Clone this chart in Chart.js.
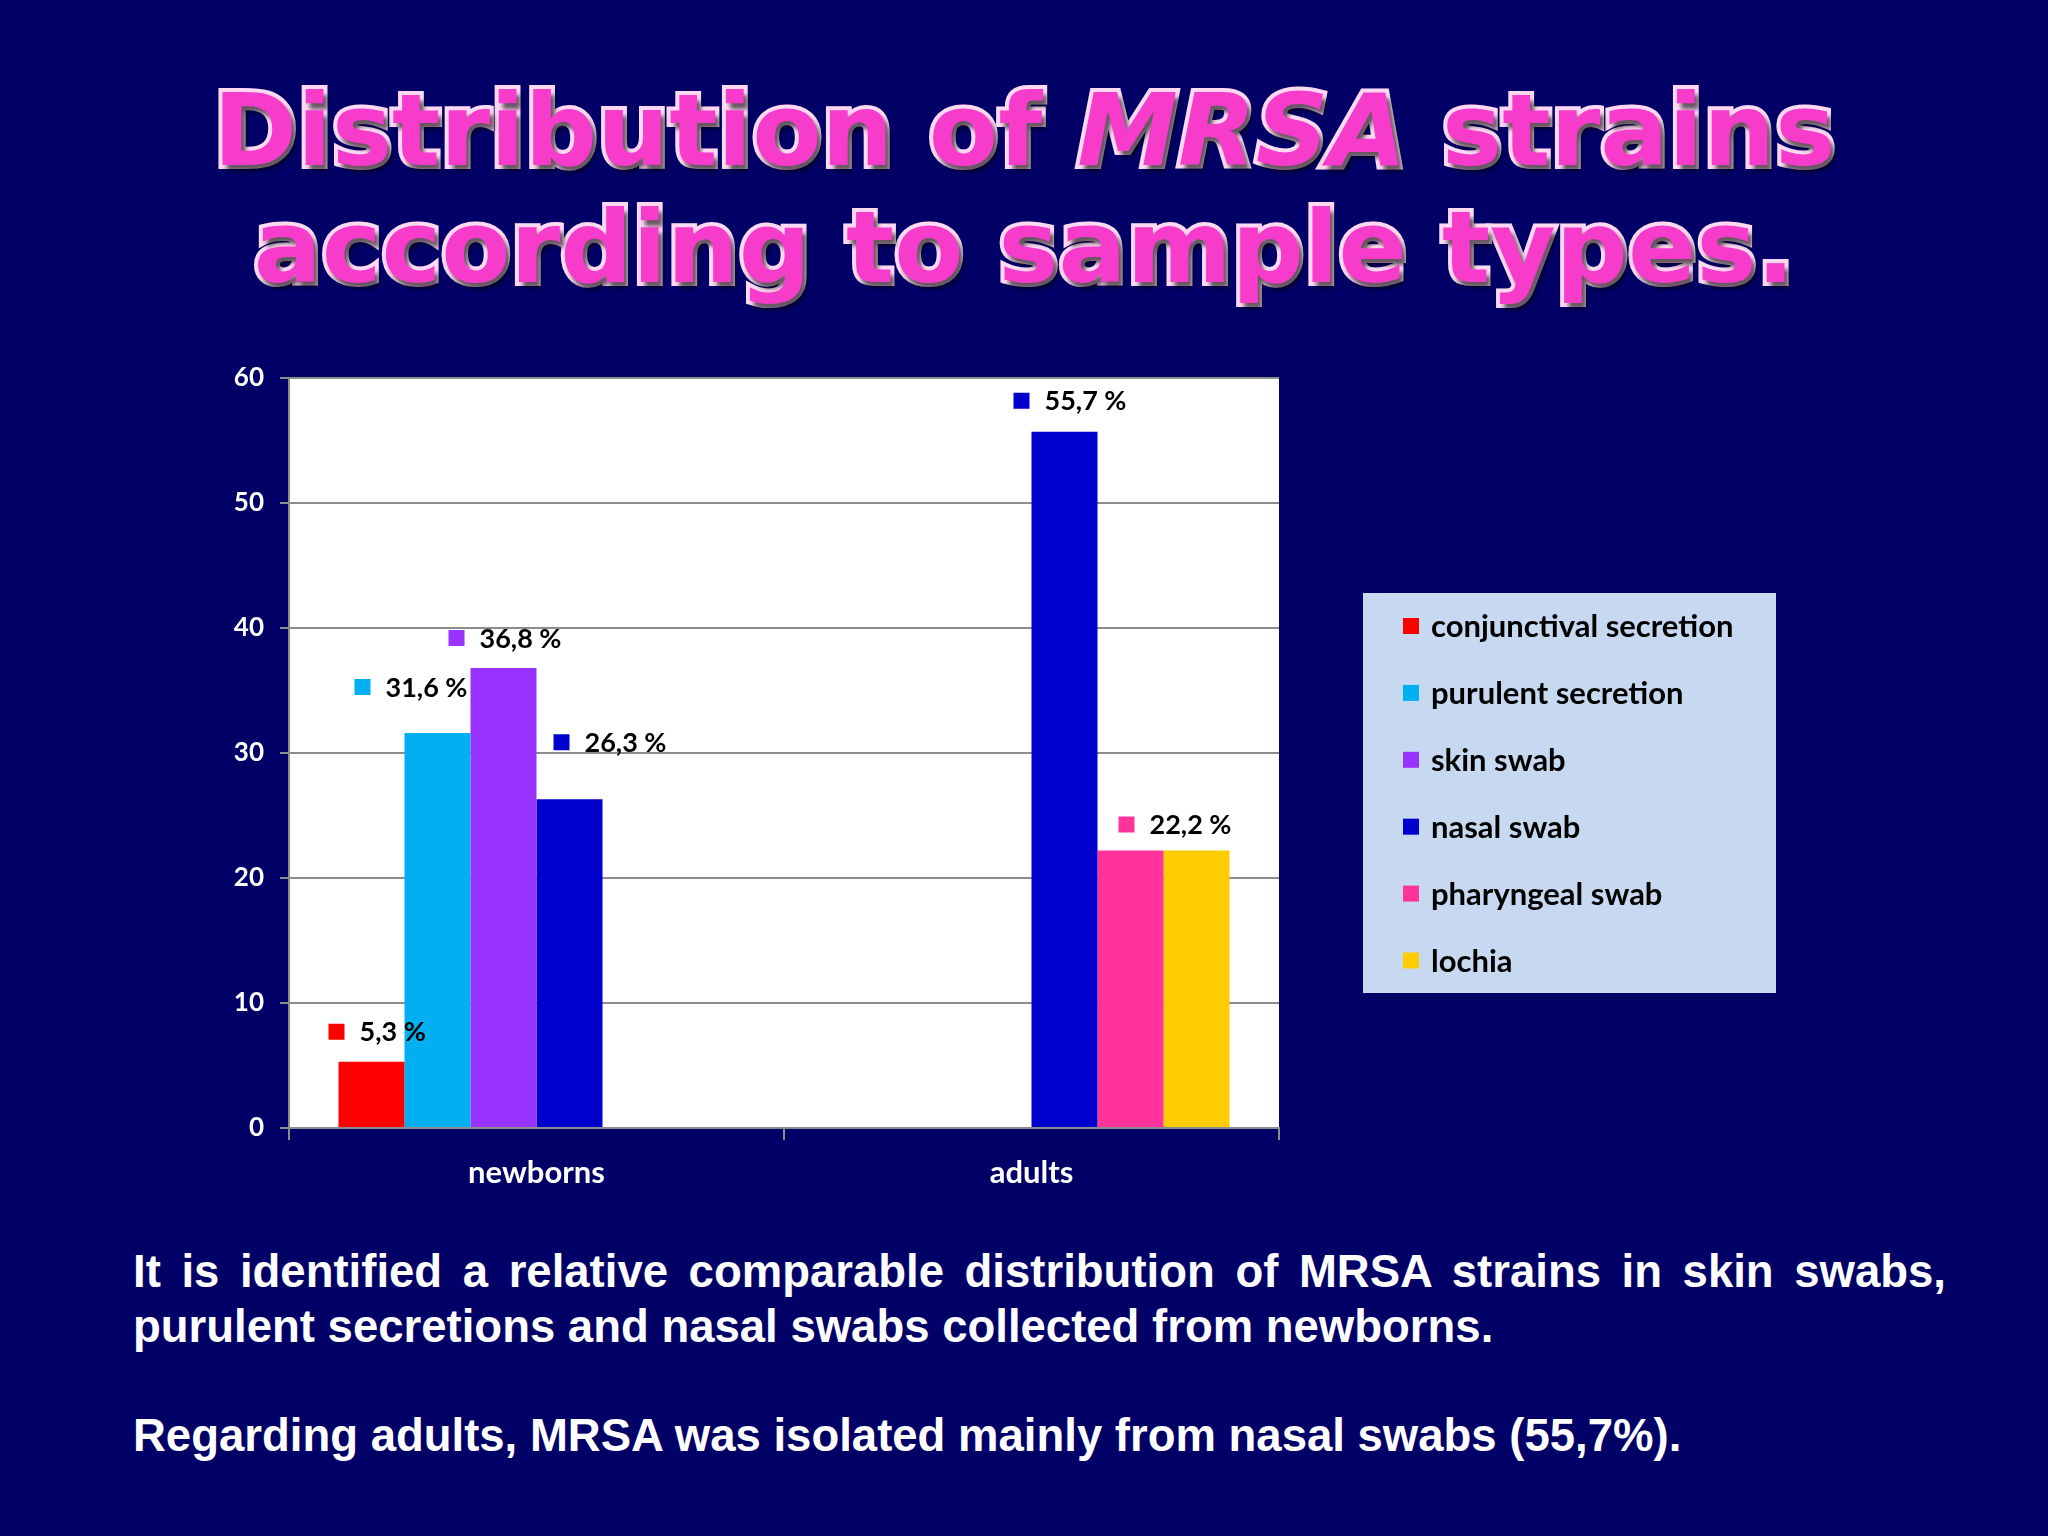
<!DOCTYPE html>
<html>
<head>
<meta charset="utf-8">
<script src="https://cdn.jsdelivr.net/npm/chart.js@4"></script>
<style>
  html, body { margin: 0; padding: 0; }
  body { width: 2048px; height: 1536px; background: #010066; position: relative; overflow: hidden; }
  .title {
    position: absolute; left: 0; width: 2048px; text-align: center;
    font-family: "DejaVu Sans", sans-serif; font-weight: bold; font-size: 100px; line-height: 100px;
    white-space: nowrap;
  }
  .title span {
    display: inline-block; transform-origin: center center;
    color: #f73ccb;
    -webkit-text-stroke: 8px #ffd9f2;
    paint-order: stroke fill;
    text-shadow: 4px 6px 4px rgba(0,0,0,0.6);
  }
  #chartWrap { position: absolute; left: 2px; top: 341px; width: 2048px; height: 880px; }
  #note {
    position: absolute; left: 133px; top: 1245px; width: 1813px;
    font-family: "Liberation Sans", Arial, sans-serif; font-weight: bold; font-size: 45.5px; line-height: 54.5px;
    color: #ffffff; text-align: justify;
  }
</style>
</head>
<body>
<div class="title" id="t1" style="top:81px"><span>Distribution of <i>MRSA</i> strains</span></div>
<div class="title" id="t2" style="top:198px"><span>according to sample types.</span></div>
<div id="chartWrap"><canvas id="c" width="2048" height="880"></canvas></div>
<div id="note">It is identified a relative comparable distribution of MRSA strains in skin swabs, purulent secretions and nasal swabs collected from newborns.<br><br>Regarding adults, MRSA was isolated mainly from nasal swabs (55,7%).</div>
<script>
// ---- data ----
const categories = ['newborns', 'adults'];
const seriesNames = ['conjunctival secretion', 'purulent secretion', 'skin swab', 'nasal swab', 'pharyngeal swab', 'lochia'];
const conjunctival = [5.3, null];
const purulent = [31.6, null];
const skinSwab = [36.8, null];
const nasalSwab = [26.3, 55.7];
const pharyngeal = [null, 22.2];
const lochia = [null, 22.2];
const seriesColors = ['#ff0000', '#00b0f0', '#9933ff', '#0000cc', '#ff3399', '#ffcc00'];
const yMin = 0, yMax = 60, yStep = 10;
// which values carry a data label, with its nudge [dx, dy] relative to the bar's top-left corner
const labelNudges = [
  [[-10, 30], null],
  [[-50, 46], null],
  [[-22, 30], null],
  [[17, 57], [-18, 31]],
  [null, [21, 26]],
  [null, null]
];

// fit title lines to their widths
function fitTitle(id, target) {
  const s = document.querySelector('#' + id + ' span');
  const w = s.getBoundingClientRect().width;
  s.style.transform = 'scaleX(' + (target / w) + ')';
}
fitTitle('t1', 1622);
fitTitle('t2', 1541);

const allSeries = [conjunctival, purulent, skinSwab, nasalSwab, pharyngeal, lochia];
const GRID = '#8c8c8c';
const FONT = 'Lato';

const plotBg = {
  id: 'plotBg',
  beforeDraw(chart) {
    const a = chart.chartArea, ctx = chart.ctx;
    ctx.save();
    ctx.fillStyle = '#ffffff';
    ctx.fillRect(a.left, a.top, a.right - a.left, a.bottom - a.top);
    ctx.restore();
  }
};

const valueLabels = {
  id: 'valueLabels',
  afterDatasetsDraw(chart) {
    const ctx = chart.ctx;
    ctx.save();
    ctx.font = 'bold 27px ' + FONT;
    ctx.textBaseline = 'middle';
    ctx.textAlign = 'left';
    chart.data.datasets.forEach((ds, di) => {
      const meta = chart.getDatasetMeta(di);
      ds.data.forEach((v, i) => {
        const nudge = labelNudges[di][i];
        if (v === null || !nudge) return;
        const el = meta.data[i];
        const p = el.getProps(['x', 'y', 'width'], true);
        const left = p.x - p.width / 2 + nudge[0];
        const cy = p.y - nudge[1];
        ctx.fillStyle = ds.backgroundColor;
        ctx.fillRect(left, cy - 8, 16, 16);
        ctx.fillStyle = '#000000';
        ctx.fillText(v.toFixed(1).replace('.', ',') + ' %', left + 31, cy + 1);
      });
    });
    ctx.restore();
  }
};

const boxLegend = {
  id: 'boxLegend',
  afterDraw(chart) {
    const ctx = chart.ctx, a = chart.chartArea;
    const x0 = a.right + 84, y0 = 252, w = 413, h = 400;
    ctx.save();
    ctx.fillStyle = '#c6d9f1';
    ctx.fillRect(x0, y0, w, h);
    ctx.font = 'bold 31px ' + FONT;
    ctx.textBaseline = 'middle';
    ctx.textAlign = 'left';
    chart.data.datasets.forEach((ds, i) => {
      const cy = y0 + 33 + i * 66.9;
      ctx.fillStyle = ds.backgroundColor;
      ctx.fillRect(x0 + 40, cy - 8, 16, 16);
      ctx.fillStyle = '#000000';
      ctx.fillText(ds.label, x0 + 68, cy + 1);
    });
    ctx.restore();
  }
};

new Chart(document.getElementById('c'), {
  type: 'bar',
  data: {
    labels: categories,
    datasets: seriesNames.map((name, i) => ({
      label: name,
      data: allSeries[i],
      backgroundColor: seriesColors[i],
      borderWidth: 0,
      barPercentage: 1.0,
      categoryPercentage: 0.8
    }))
  },
  options: {
    responsive: false,
    animation: false,
    devicePixelRatio: 1,
    layout: { padding: { top: 37, right: 771, bottom: 0, left: 0 } },
    plugins: { legend: { display: false }, tooltip: { enabled: false }, title: { display: false } },
    scales: {
      x: {
        grid: { display: true, drawOnChartArea: false, drawTicks: true, tickLength: 12, color: GRID, lineWidth: 2, offset: true },
        border: { display: true, color: GRID, width: 2 },
        ticks: { color: '#ffffff', font: { family: FONT, weight: 'bold', size: 31 }, padding: 14 },
        afterFit(axis) { axis.height = 93; }
      },
      y: {
        min: yMin, max: yMax,
        grid: { color: GRID, lineWidth: 2, tickLength: 9 },
        border: { display: true, color: GRID, width: 2 },
        ticks: { stepSize: yStep, color: '#ffffff', font: { family: FONT, weight: 'bold', size: 26 }, padding: 16 },
        afterFit(axis) { axis.width = 287; }
      }
    }
  },
  plugins: [plotBg, valueLabels, boxLegend]
});
</script>
</body>
</html>
